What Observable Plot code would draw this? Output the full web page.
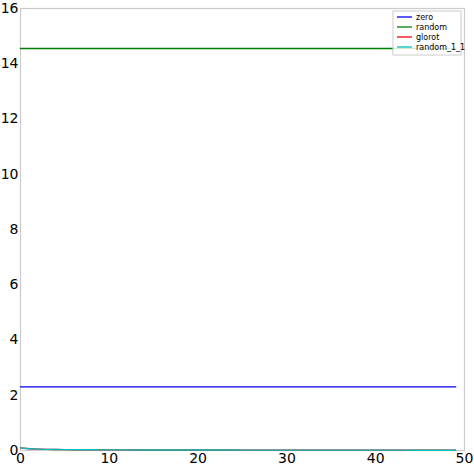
<!DOCTYPE html>
<html>
<head>
<meta charset="utf-8">
<script src="https://cdn.jsdelivr.net/npm/d3@7"></script>
<script src="https://cdn.jsdelivr.net/npm/@observablehq/plot@0.6"></script>
<style>
  html, body { margin: 0; padding: 0; background: #fff; }
  #chart svg { display: block; }
</style>
</head>
<body>
<div id="chart"></div>
<script>
const epochs = d3.range(0, 50);
const seriesNames = ["zero", "random", "glorot", "random_1_1"];
const seriesColors = ["#0000ff", "#008000", "#ff0000", "#00bfbf"];
const zeroLoss = epochs.map(() => 2.3026);
const randomLoss = epochs.map(() => 14.55);
const glorotLoss = [0.095, 0.065, 0.050, 0.042, 0.036, 0.032, 0.029, 0.027, 0.025, 0.024,
  0.023, 0.022, 0.021, 0.020, 0.020, 0.019, 0.019, 0.018, 0.018, 0.017,
  0.017, 0.017, 0.016, 0.016, 0.016, 0.015, 0.015, 0.015, 0.015, 0.014,
  0.014, 0.014, 0.014, 0.013, 0.013, 0.013, 0.013, 0.013, 0.012, 0.012,
  0.012, 0.012, 0.012, 0.012, 0.011, 0.011, 0.011, 0.011, 0.011, 0.011];
const random11Loss = [0.095, 0.065, 0.050, 0.042, 0.036, 0.032, 0.029, 0.027, 0.025, 0.024,
  0.023, 0.022, 0.021, 0.020, 0.020, 0.019, 0.019, 0.018, 0.018, 0.017,
  0.017, 0.017, 0.016, 0.016, 0.016, 0.015, 0.015, 0.015, 0.015, 0.014,
  0.014, 0.014, 0.014, 0.013, 0.013, 0.013, 0.013, 0.013, 0.012, 0.012,
  0.012, 0.012, 0.012, 0.012, 0.011, 0.011, 0.011, 0.011, 0.011, 0.011];
const xTicks = [0, 10, 20, 30, 40, 50];
const yTicks = [0, 2, 4, 6, 8, 10, 12, 14, 16];

const seriesValues = [zeroLoss, randomLoss, glorotLoss, random11Loss];
const rows = seriesNames.flatMap((name, i) =>
  epochs.map((e, j) => ({series: name, epoch: e, loss: seriesValues[i][j]})));

const chart = Plot.plot({
  width: 474,
  height: 467,
  marginLeft: 20,
  marginRight: 10,
  marginTop: 8,
  marginBottom: 17,
  style: {fontFamily: "DejaVu Sans", fontSize: "14px", color: "#000", background: "#fff"},
  x: {domain: [0, 50], ticks: xTicks, tickSize: 0, tickPadding: 3, label: null},
  y: {domain: [0, 16], ticks: yTicks, tickSize: 0, tickPadding: 2, label: null},
  color: {domain: seriesNames, range: seriesColors},
  marks: [
    Plot.frame({stroke: "#cccccc", strokeWidth: 1.2}),
    Plot.line(rows, {x: "epoch", y: "loss", z: "series", stroke: "series", strokeWidth: 1.4})
  ]
});
document.getElementById("chart").appendChild(chart);

// legend inside the plot frame, top-right
const svgSel = d3.select(chart);
const xScale = chart.scale("x"), yScale = chart.scale("y");
const frameRight = xScale.apply(50), frameTop = yScale.apply(16);
const boxW = 68, boxH = 44;
const lg = svgSel.append("g").attr("transform", `translate(${frameRight - boxW - 3},${frameTop + 3})`);
lg.append("rect").attr("width", boxW).attr("height", boxH)
  .attr("fill", "#fff").attr("fill-opacity", 0.85).attr("stroke", "#cccccc").attr("stroke-width", 1);
seriesNames.forEach((name, i) => {
  const yy = 6 + i * 10;
  lg.append("line").attr("x1", 4).attr("x2", 19).attr("y1", yy).attr("y2", yy)
    .attr("stroke", seriesColors[i]).attr("stroke-width", 1.3);
  lg.append("text").attr("x", 23).attr("y", yy).attr("dy", "0.35em")
    .attr("text-anchor", "start")
    .attr("font-family", "DejaVu Sans").attr("font-size", 8).attr("fill", "#000").text(name);
});
</script>
</body>
</html>
